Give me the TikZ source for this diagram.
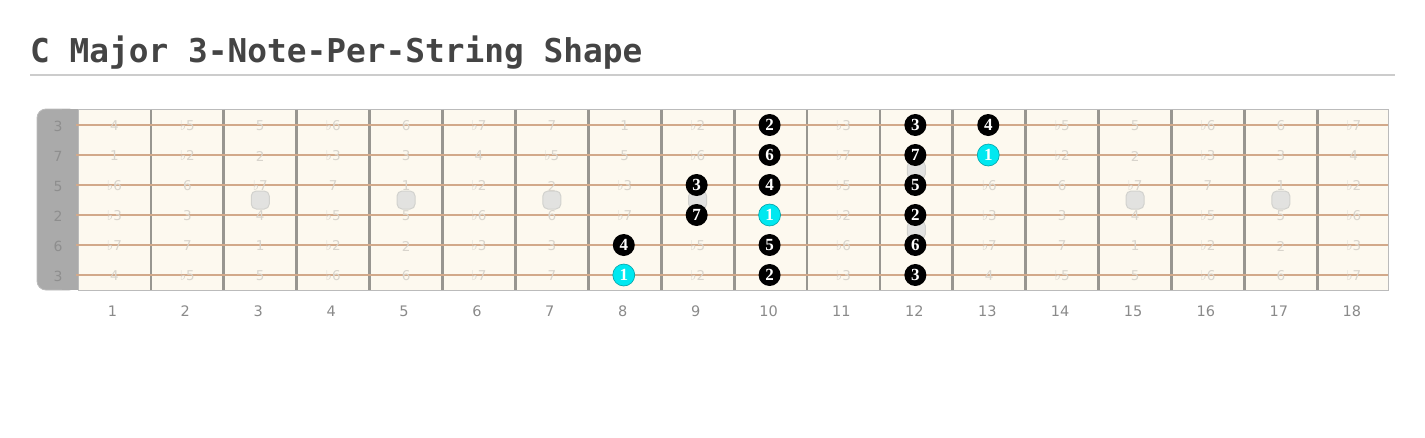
\documentclass[tikz,border=0pt]{standalone}
\usepackage{fontspec}
\setmainfont{DejaVu Sans}
\newfontfamily\titlefont{DejaVu Sans Mono}
\newfontfamily\dotfont{Liberation Serif}
\definecolor{titlegray}{HTML}{444444}
\definecolor{rulegray}{HTML}{CCCCCC}
\definecolor{boardfill}{HTML}{FDF9EF}
\definecolor{boardline}{HTML}{BBBBBB}
\definecolor{nutgray}{HTML}{AAAAAA}
\definecolor{nuttext}{HTML}{8E8E8E}
\definecolor{fretgray}{HTML}{989690}
\definecolor{stringtan}{HTML}{D2A98A}
\definecolor{faint}{HTML}{D8D4CC}
\definecolor{inlayfill}{HTML}{E2E2E0}
\definecolor{inlayline}{HTML}{D2D2CE}
\definecolor{numgray}{HTML}{8A8A8A}
\definecolor{rootcyan}{HTML}{00E8F0}
\def\ivname#1{\ifcase#1 1\or ♭2\or 2\or ♭3\or 3\or 4\or ♭5\or 5\or ♭6\or 6\or ♭7\or 7\fi}
\begin{document}
\begin{tikzpicture}[x=1pt,y=-1pt,
  faintlbl/.style={text=faint,font=\fontsize{13.5}{13.5}\selectfont,inner sep=0pt},
  nutlbl/.style={text=nuttext,font=\fontsize{14}{14}\selectfont,inner sep=0pt},
  fretnum/.style={text=numgray,font=\fontsize{14.5}{14.5}\selectfont,inner sep=0pt},
  inlay/.style={fill=inlayfill,draw=inlayline,line width=1pt,rounded corners=5pt,minimum size=18pt,inner sep=0pt},
  notedot/.style={circle,fill=black,minimum size=22pt,inner sep=0pt,text=white,font=\dotfont\bfseries\fontsize{17}{17}\selectfont},
  rootdot/.style={notedot,fill=rootcyan,draw=rootcyan!70!black,line width=0.6pt}]
\useasboundingbox (0,0) rectangle (1425,437);
% title
\node[anchor=base west,inner sep=0pt,text=titlegray,font=\titlefont\bfseries\fontsize{32.8}{33}\selectfont] (title) at (30,62) {C Major 3-Note-Per-String Shape};
\draw[rulegray,line width=1.6pt] (30,75) -- (1395,75);
% nut
\fill[nutgray,draw=boardline,line width=0.8pt,rounded corners=9pt] (37,109) rectangle (78,290);
\fill[nutgray] (62,109.4) rectangle (78,289.6);
% board
\fill[boardfill,draw=boardline,line width=0.8pt] (78,109) rectangle (1388,290);
% frets
\foreach \i in {1,...,17}{
  \draw[fretgray,line width=2.8pt] ({78+72.9*\i},109.5) -- ({78+72.9*\i},289.5);
}
% inlays
\foreach \f in {3,5,7,9,15,17}{
  \node[inlay] (inlay\f) at ({78+72.9*(\f-0.5)},200) {};
}
\node[inlay] (inlay12a) at ({78+72.9*11.5},170) {};
\node[inlay] (inlay12b) at ({78+72.9*11.5},230) {};
% strings
\foreach \s in {0,...,5}{
  \draw[stringtan,line width=2pt] (76,{125+30*\s}) -- (1388,{125+30*\s});
}
% mark positions that carry a dot
\foreach \s/\f in {0/10,0/12,0/13,1/10,1/12,1/13,2/9,2/10,2/12,3/9,3/10,3/12,4/8,4/10,4/12,5/8,5/10,5/12}{
  \expandafter\gdef\csname hd\s-\f\endcsname{}
}
% open-string labels and faint interval labels
\foreach \s/\o in {0/4,1/11,2/7,3/2,4/9,5/4}{
  \pgfmathtruncatemacro\k{\o}
  \node[nutlbl] (open\s) at (58,{126+30*\s}) {\ivname{\k}};
  \foreach \f in {1,...,18}{
    \pgfmathtruncatemacro\k{mod(\o+\f,12)}
    \ifcsname hd\s-\f\endcsname\else
      \node[faintlbl] (iv\s-\f) at ({78+72.9*(\f-0.5)},{126+30*\s}) {\ivname{\k}};
    \fi
  }
}
% fret numbers
\foreach \f in {1,...,18}{
  \node[fretnum] (num\f) at ({78+72.9*(\f-0.5)-2},311) {\f};
}
% scale dots
\foreach \s/\f/\n in {0/10/2,0/12/3,0/13/4,
                      1/10/6,1/12/7,
                      2/9/3,2/10/4,2/12/5,
                      3/9/7,3/12/2,
                      4/8/4,4/10/5,4/12/6,
                      5/10/2,5/12/3}{
  \node[notedot] (dot\s-\f) at ({78+72.9*(\f-0.5)-1},{125+30*\s}) {\n};
}
\foreach \s/\f in {1/13,3/10,5/8}{
  \node[rootdot] (dot\s-\f) at ({78+72.9*(\f-0.5)-1},{125+30*\s}) {1};
}
\end{tikzpicture}
\end{document}
